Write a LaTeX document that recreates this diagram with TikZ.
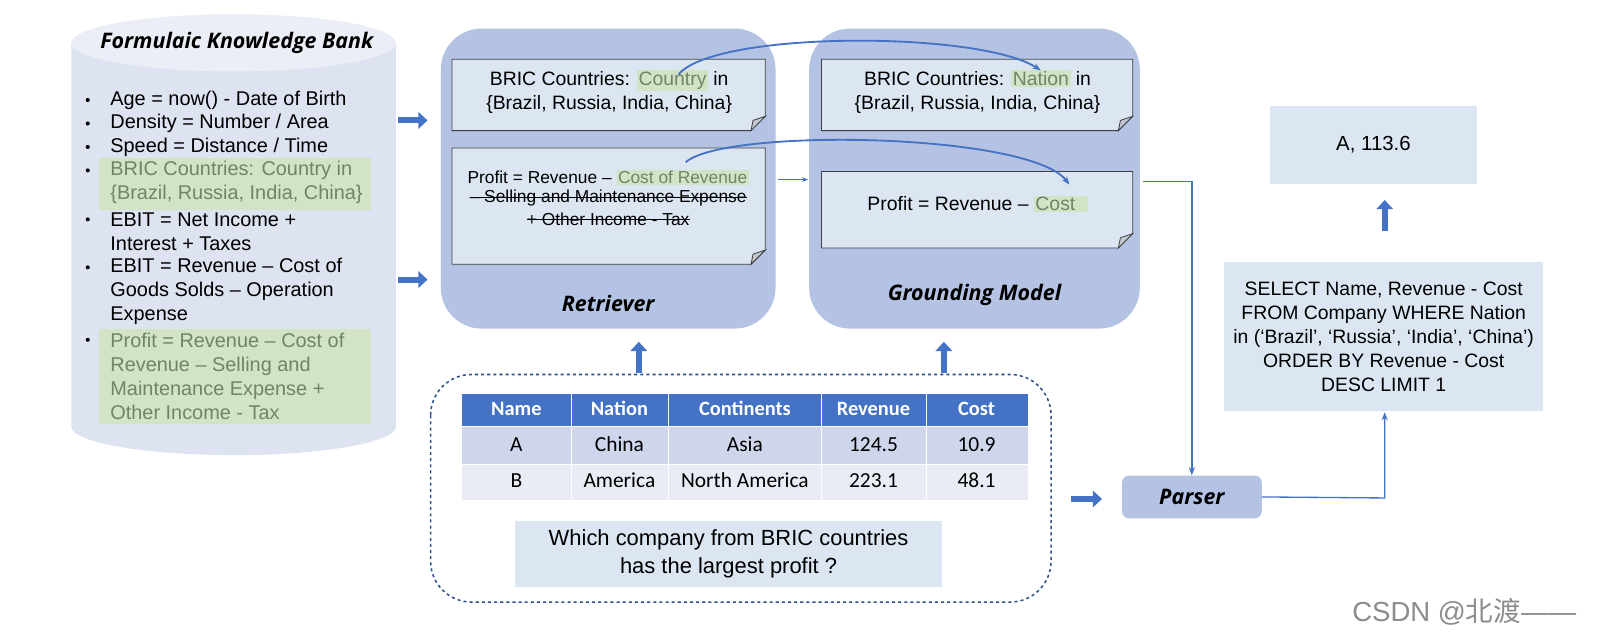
\documentclass[tikz,border=0pt]{standalone}
\usepackage{fontspec}
\setmainfont{Liberation Sans}
\newfontfamily\titlef{Open Sans}
\newfontfamily\tabf{Carlito}
\newfontfamily\cjkf{Noto Sans CJK SC}
\usetikzlibrary{arrows.meta,shapes.geometric}
\definecolor{panel}{HTML}{B4C3E3}
\definecolor{light}{HTML}{DCE6F2}
\definecolor{cyl}{HTML}{DDE3F0}
\definecolor{hl}{HTML}{D3E4C6}
\definecolor{hltext}{HTML}{6F8468}
\definecolor{arr}{HTML}{4472C4}
\definecolor{hdr}{HTML}{4472C4}
\definecolor{rowa}{HTML}{CFD5EA}
\definecolor{rowb}{HTML}{E9EBF5}
\setlength{\fboxsep}{1.5pt}
\tikzset{
  txt/.style={font=\fontsize{19.5}{23.5}\selectfont, align=left, anchor=west, inner sep=0pt},
  ttl/.style={font=\titlef\bfseries\itshape\fontsize{21}{24}\selectfont},
  note/.style={fill=light, draw=black!75, line width=0.8pt},
  fat/.style={-{Triangle[length=9pt,width=16pt]}, line width=6pt, draw=arr},
  thin/.style={-{Stealth[length=8pt]}, line width=1.8pt, draw=arr},
  cell/.style={font=\tabf\fontsize{21}{24}\selectfont, anchor=center, text height=14pt, text depth=4pt},
  sm/.style={font=\fontsize{17}{19}\selectfont, inner sep=0pt}
}
\begin{document}
\begin{tikzpicture}[x=1pt,y=-1pt]
\fill[white] (0,0) rectangle (1568,625.3);
% cylinder
\fill[cyl] (70,42) -- (70,418) arc[start angle=180,end angle=0,x radius=159,y radius=28] -- (388,42) -- cycle;
\fill[cyl!60!white] (229,42) ellipse[x radius=159,y radius=28];
\node[ttl] (kbt) at (232,42) {Formulaic Knowledge Bank};
\fill[hl] (97,155) rectangle (364,206);
\fill[hl] (97,322) rectangle (364,416);
\foreach \y in {98,121,144,167,215,262,333} \fill (86,\y) circle (2pt);
\node[txt] (l1) at (108,98) {Age = now() - Date of Birth};
\node[txt] (l2) at (108,121) {Density = Number / Area};
\node[txt] (l3) at (108,144) {Speed = Distance / Time};
\node[txt,text=hltext] (l4) at (108,179) {BRIC Countries: Country in\\\{Brazil, Russia, India, China\}};
\node[txt] (l5) at (108,227) {EBIT = Net Income +\\Interest + Taxes};
\node[txt] (l6) at (108,286) {EBIT = Revenue -- Cost of\\Goods Solds -- Operation\\Expense};
\node[txt,text=hltext] (l7) at (108,369) {Profit = Revenue -- Cost of\\Revenue -- Selling and\\Maintenance Expense +\\Other Income - Tax};
\coordinate (a1s) at (390,118); \coordinate (a1e) at (419,118);
\coordinate (a2s) at (390,274); \coordinate (a2e) at (419,274);
\draw[fat] (a1s) -- (a1e);
\draw[fat] (a2s) -- (a2e);
% panels
\node[fill=panel, rounded corners=40pt, minimum width=328pt, minimum height=294pt] (ret) at (596,175) {};
\node[fill=panel, rounded corners=40pt, minimum width=324pt, minimum height=294pt] (gro) at (955,175) {};
\node[ttl] (retl) at (596,297) {Retriever};
\node[ttl] (grol) at (955,289) {Grounding Model};
% notes with dog ear
\newcommand{\notebox}[4]{%
 \draw[note] (#1,#2) -- (#3,#2) -- (#3,#4-14) -- (#3-14,#4) -- (#1,#4) -- cycle;
 \draw[note,fill=light!70!gray] (#3,#4-14) -- (#3-12,#4-10) -- (#3-14,#4) -- cycle;}
\notebox{443}{58}{750}{128}
\notebox{443}{145}{750}{259}
\notebox{805}{58}{1110}{128}
\notebox{805}{168}{1110}{243}
\node[font=\fontsize{19}{24}\selectfont,align=center] (r1) at (597,90) {BRIC Countries: \colorbox{hl}{\textcolor{hltext}{Country}} in\\\{Brazil, Russia, India, China\}};
\node[sm] (r2a) at (596,174) {Profit = Revenue -- \colorbox{hl}{\textcolor{hltext}{Cost of Revenue}}};
\node[sm] (r2b) at (596,194) {-- Selling and Maintenance Expense};
\node[sm] (r2c) at (596,215) {+ Other Income - Tax};
\draw[line width=0.9pt] (r2b.west) -- (r2b.east);
\draw[line width=0.9pt] (r2c.west) -- (r2c.east);
\node[font=\fontsize{19}{24}\selectfont,align=center] (g1) at (958,90) {BRIC Countries: \colorbox{hl}{\textcolor{hltext}{Nation}} in\\\{Brazil, Russia, India, China\}};
\node[font=\fontsize{19}{22}\selectfont] (g2) at (958,200) {Profit = Revenue -- \colorbox{hl}{\textcolor{hltext}{Cost~~}}};
\coordinate (c1s) at (665,73); \coordinate (c1e) at (1020,69);
\coordinate (c2s) at (672,159); \coordinate (c2e) at (1048,181);
\draw[thin] (c1s) .. controls (700,30) and (960,30) .. (c1e);
\draw[thin] (c2s) .. controls (710,125) and (1010,130) .. (c2e);
\coordinate (m1) at (762,176); \coordinate (m2) at (792,176);
\draw[-{Stealth[length=6pt]}, line width=1pt, draw=arr] (m1) -- (m2);
% up arrows
\coordinate (u1s) at (626,366); \coordinate (u1e) at (626,335);
\coordinate (u2s) at (925,366); \coordinate (u2e) at (925,335);
\draw[fat] (u1s) -- (u1e); \draw[fat] (u2s) -- (u2e);
% dashed region
\draw[dashed, line width=1.5pt, draw=arr!70!black, rounded corners=40pt] (422,367) rectangle (1030,590);
% table
\fill[hdr] (453,386) rectangle (1007,418);
\fill[rowa] (453,418) rectangle (1007,455);
\fill[rowb] (453,455) rectangle (1007,490);
\foreach \x in {560,655,805,908} \draw[white, line width=1.5pt] (\x,386) -- (\x,490);
\draw[white, line width=1.5pt] (453,418) -- (1007,418) (453,455) -- (1007,455);
\foreach \t/\x in {Name/506,Nation/607,Continents/730,Revenue/856,Cost/957}
  \node[cell,text=white,font=\tabf\bfseries\fontsize{20}{24}\selectfont] at (\x,402) {\t};
\foreach \t/\x in {A/506,China/607,Asia/730,124.5/856,10.9/957}
  \node[cell] at (\x,437) {\t};
\foreach \t/\x in {B/506,America/607,North America/730,223.1/856,48.1/957}
  \node[cell] at (\x,473) {\t};
\node[fill=light, minimum width=418pt, minimum height=65pt, font=\fontsize{21.5}{27}\selectfont, align=center] (q) at (714,543) {Which company from BRIC countries\\has the largest profit ?};
\coordinate (p1s) at (1050,489); \coordinate (p1e) at (1080,489);
\draw[fat] (p1s) -- (p1e);
\node[fill=panel, rounded corners=7pt, minimum width=137pt, minimum height=42pt, ttl] (parser) at (1168,487) {Parser};
\node[fill=light, minimum width=313pt, minimum height=146pt, font=\fontsize{19}{23.5}\selectfont, align=center] (sql) at (1356,330) {SELECT Name, Revenue - Cost\\FROM Company WHERE Nation\\in (`Brazil', `Russia', `India', `China')\\ORDER BY Revenue - Cost\\DESC LIMIT 1};
\node[fill=light, minimum width=202pt, minimum height=77pt, font=\fontsize{20}{22}\selectfont] (ans) at (1346,142) {A, 113.6};
\coordinate (gout) at (1120,178);
\draw[thin, line width=1.3pt] (gout) -- (1168,178) -- (parser.north);
\coordinate (sqlin) at (1357,404);
\draw[thin, line width=1.3pt] (parser.east) -- (1357,488) -- (sqlin);
\coordinate (u3s) at (1357,226); \coordinate (u3e) at (1357,196);
\draw[fat] (u3s) -- (u3e);
\node[text=black!45, font=\fontsize{27}{28}\selectfont, anchor=west, inner sep=0pt] (wm) at (1325,600) {CSDN @{\cjkf 北渡}——};
\pgfresetboundingbox
\useasboundingbox (0,0) rectangle (1568,625.3);
\end{tikzpicture}
\end{document}
